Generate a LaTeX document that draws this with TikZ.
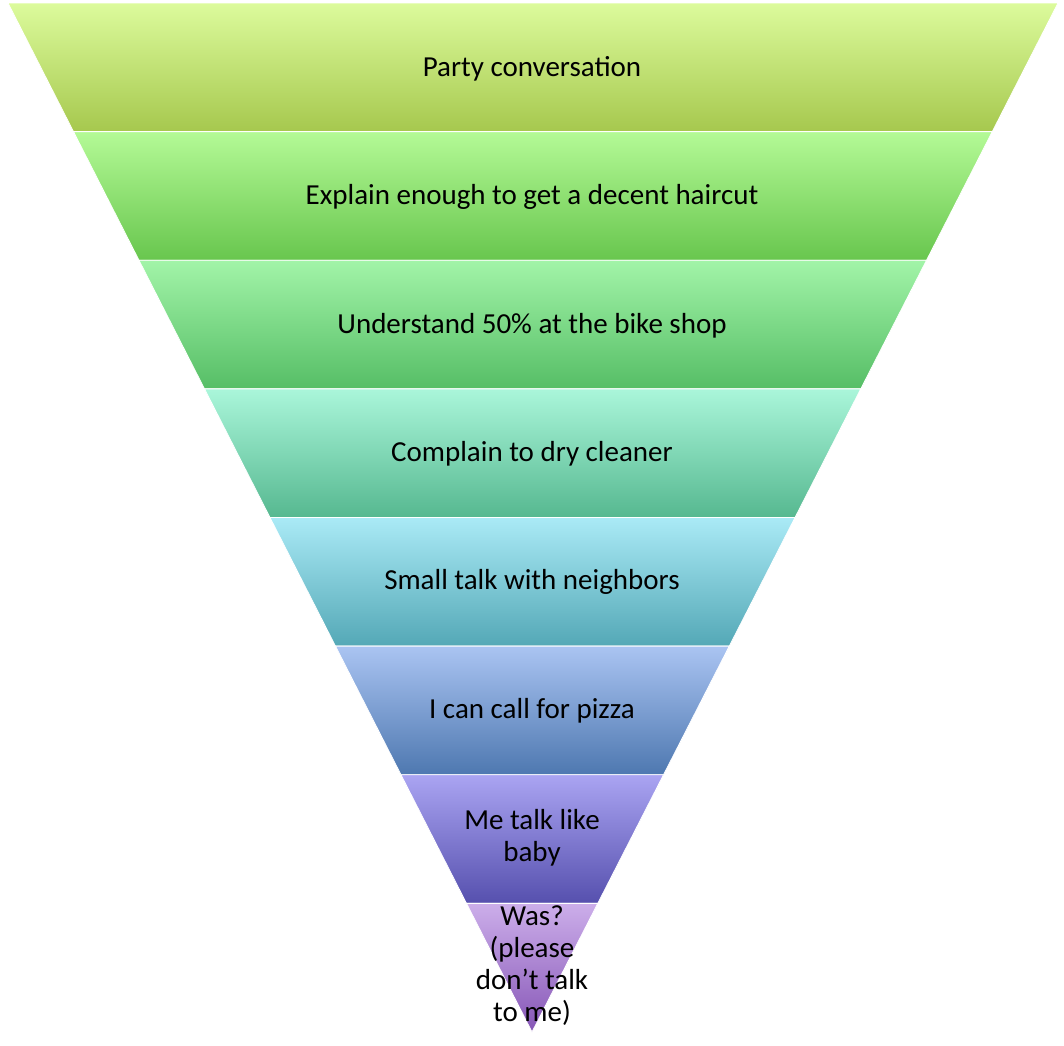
\documentclass[tikz,border=0pt]{standalone}
\usepackage{fontspec}
\setmainfont{Carlito}
\usetikzlibrary{calc}
\definecolor{c1t}{HTML}{DCFB9C}\definecolor{c1b}{HTML}{A6C84E}
\definecolor{c2t}{HTML}{B4FA96}\definecolor{c2b}{HTML}{68C64E}
\definecolor{c3t}{HTML}{A2F4A8}\definecolor{c3b}{HTML}{56BE66}
\definecolor{c4t}{HTML}{AAF6DA}\definecolor{c4b}{HTML}{56B890}
\definecolor{c5t}{HTML}{AAEAF6}\definecolor{c5b}{HTML}{54A8B6}
\definecolor{c6t}{HTML}{AAC4F2}\definecolor{c6b}{HTML}{4E78B0}
\definecolor{c7t}{HTML}{AAA4F2}\definecolor{c7b}{HTML}{5650AE}
\definecolor{c8t}{HTML}{CCAEEA}\definecolor{c8b}{HTML}{8656B6}
\tikzset{bandtext/.style={align=center,font=\fontsize{29}{32}\selectfont,text=black,inner sep=0pt}}
\begin{document}
\begin{tikzpicture}[x=1pt,y=1pt]
\useasboundingbox (0,0) rectangle (1064,-1045);
\coordinate (TL) at (8,-3);
\coordinate (TR) at (1058,-3);
\coordinate (A) at (532,-1032);
\foreach \i in {1,...,8}{
  \pgfmathsetmacro{\ta}{(\i-1)/8}
  \pgfmathsetmacro{\tb}{\i/8}
  \shade[top color=c\i t,bottom color=c\i b,draw=white,line width=0.8pt]
    ($(TL)!\ta!(A)$) -- ($(TR)!\ta!(A)$) -- ($(TR)!\tb!(A)$) -- ($(TL)!\tb!(A)$) -- cycle;
}
\node[bandtext] (t1) at (532,-69) {Party conversation};
\node[bandtext] (t2) at (532,-197) {Explain enough to get a decent haircut};
\node[bandtext] (t3) at (532,-326) {Understand 50\% at the bike shop};
\node[bandtext] (t4) at (532,-454) {Complain to dry cleaner};
\node[bandtext] (t5) at (532,-582) {Small talk with neighbors};
\node[bandtext] (t6) at (532,-711) {I can call for pizza};
\node[bandtext] (t7) at (532,-838) {Me talk like\\baby};
\node[bandtext] (t8) at (532,-966) {Was?\\(please\\don\char"27 t talk\\to me)};
\end{tikzpicture}
\end{document}
